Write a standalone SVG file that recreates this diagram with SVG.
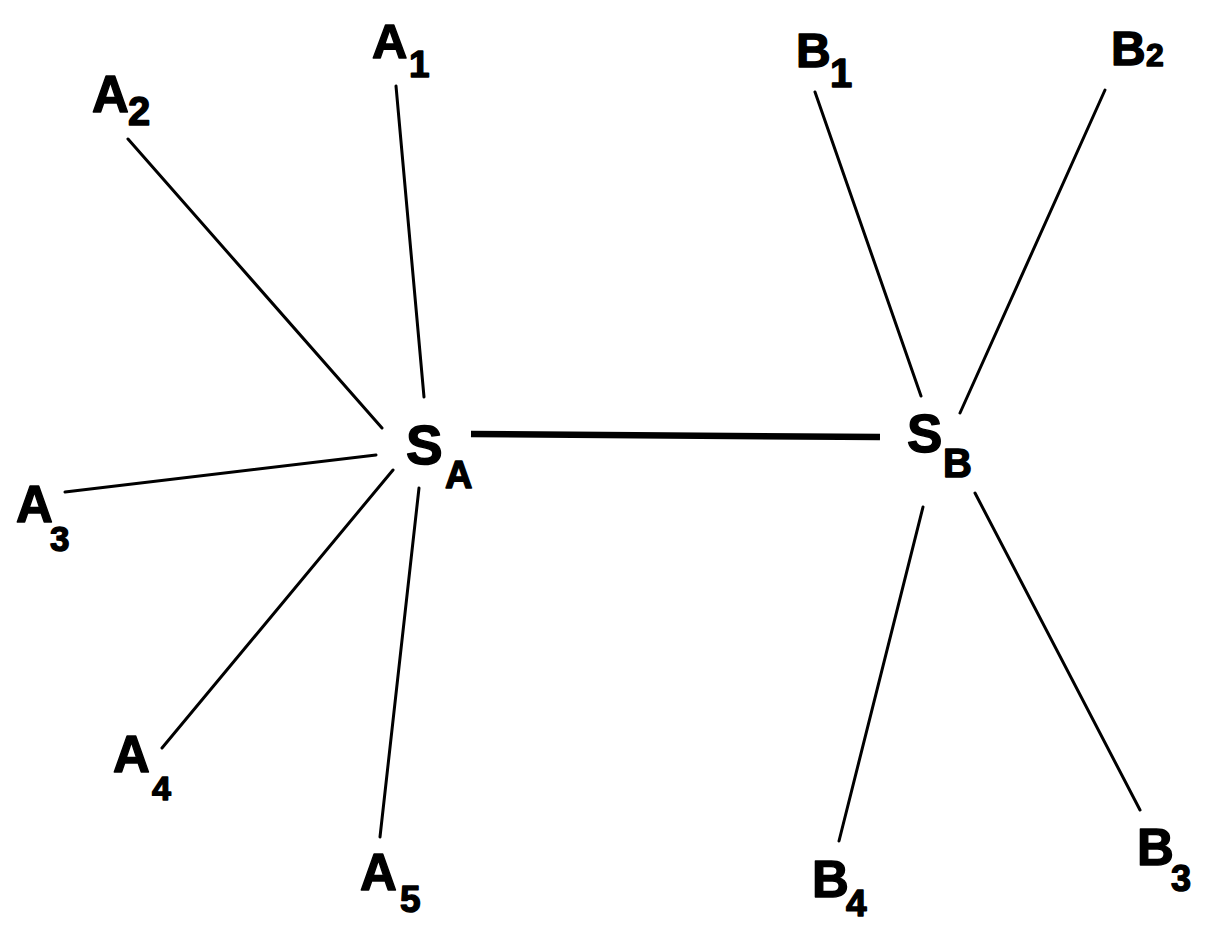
<svg xmlns="http://www.w3.org/2000/svg" width="1215" height="926" viewBox="0 0 1215 926">
<style>
.bg{fill:#ffffff}
.edge{stroke:#000;stroke-width:3;stroke-linecap:round;fill:none}
.trunk{stroke:#000;stroke-width:6.5;stroke-linecap:butt;fill:none}
text{font-family:"Liberation Sans",Arial,Helvetica,sans-serif;font-weight:bold;fill:#000;stroke:#000;stroke-width:1.4;stroke-linejoin:round}
</style>
<rect class="bg" x="0" y="0" width="1215" height="926"/>
<g id="connectors">
<line class="edge" x1="396" y1="86" x2="424" y2="397"/>
<line class="edge" x1="128" y1="139" x2="382" y2="428"/>
<line class="edge" x1="65" y1="492" x2="376" y2="455"/>
<line class="edge" x1="162" y1="748" x2="393" y2="470"/>
<line class="edge" x1="380" y1="837" x2="419" y2="488"/>
<line class="trunk" x1="471" y1="434" x2="880" y2="437"/>
<line class="edge" x1="815" y1="92" x2="921" y2="396"/>
<line class="edge" x1="1105" y1="90" x2="960" y2="413"/>
<line class="edge" x1="1140" y1="810" x2="975" y2="493"/>
<line class="edge" x1="839" y1="841" x2="923" y2="507"/>
</g>
<g id="SA"><text x="406" y="464" font-size="55">S</text><text x="445" y="488" font-size="38">A</text></g>
<g id="SB"><text x="907" y="452" font-size="53">S</text><text x="943" y="477" font-size="40">B</text></g>
<g id="A1"><text x="372" y="58" font-size="49">A</text><text x="409" y="77" font-size="37">1</text></g>
<g id="A2"><text x="92" y="112" font-size="51">A</text><text x="128" y="125" font-size="40">2</text></g>
<g id="A3"><text x="16" y="522" font-size="51">A</text><text x="50" y="551" font-size="35">3</text></g>
<g id="A4"><text x="113" y="772" font-size="51">A</text><text x="152" y="800" font-size="34">4</text></g>
<g id="A5"><text x="360" y="890" font-size="51">A</text><text x="400" y="912" font-size="37">5</text></g>
<g id="B1"><text x="796" y="67" font-size="48">B</text><text x="830" y="87" font-size="40">1</text></g>
<g id="B2"><text x="1111" y="65" font-size="48">B</text><text x="1146" y="66" font-size="32">2</text></g>
<g id="B3"><text x="1137" y="865" font-size="51">B</text><text x="1171" y="891" font-size="36">3</text></g>
<g id="B4"><text x="812" y="897" font-size="51">B</text><text x="846" y="916" font-size="37">4</text></g>
</svg>
